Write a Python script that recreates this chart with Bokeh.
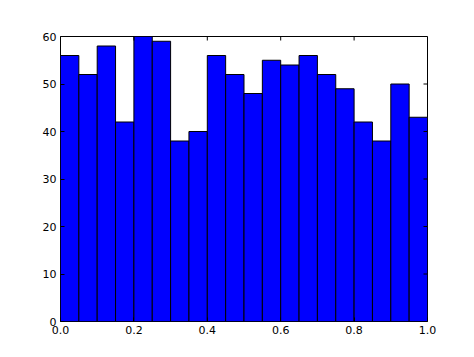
from bokeh.plotting import figure
from bokeh.models import LinearAxis, FixedTicker, Range1d, PrintfTickFormatter
from bokeh.embed import file_html
from bokeh.resources import INLINE

bin_left = [0.00, 0.05, 0.10, 0.15, 0.20, 0.25, 0.30, 0.35, 0.40, 0.45,
            0.50, 0.55, 0.60, 0.65, 0.70, 0.75, 0.80, 0.85, 0.90, 0.95]
bin_right = [0.05, 0.10, 0.15, 0.20, 0.25, 0.30, 0.35, 0.40, 0.45, 0.50,
             0.55, 0.60, 0.65, 0.70, 0.75, 0.80, 0.85, 0.90, 0.95, 1.00]
counts = [56, 52, 58, 42, 60, 59, 38, 40, 56, 52,
          48, 55, 54, 56, 52, 49, 42, 38, 50, 43]
x_ticks = [0.0, 0.2, 0.4, 0.6, 0.8, 1.0]
y_ticks = [0, 10, 20, 30, 40, 50, 60]

X0, X1, Y0, Y1 = 0, 1, 0, 60
W, H = 474, 357
ML, MR, MT, MB = 60, 47, 36, 36
TICK = 4  # px

p = figure(width=W, height=H, output_backend="svg", toolbar_location=None,
           x_range=Range1d(X0, X1), y_range=Range1d(Y0, Y1),
           min_border_left=ML, min_border_right=MR, min_border_top=MT, min_border_bottom=MB,
           x_axis_location=None, y_axis_location=None)
p.grid.visible = False
p.outline_line_color = "black"
p.outline_line_width = 1
p.background_fill_color = "white"
p.border_fill_color = "white"

p.quad(left=bin_left, right=bin_right, top=counts, bottom=[0] * len(counts),
       fill_color="#0000ff", line_color="black", line_width=1)

FONT = "DejaVu Sans"

def mk(loc, ticks, fmt):
    ax = LinearAxis(ticker=FixedTicker(ticks=ticks))
    ax.axis_line_color = None
    ax.major_tick_in = TICK
    ax.major_tick_out = 0
    ax.minor_tick_line_color = None
    ax.major_tick_line_color = "black"
    ax.major_label_text_font = FONT
    ax.major_label_text_font_size = "11px"
    ax.major_label_text_color = "black"
    ax.major_label_standoff = 4
    ax.formatter = PrintfTickFormatter(format=fmt)
    p.add_layout(ax, loc)

mk("below", x_ticks, "%.1f")
mk("left", y_ticks, "%d")

# mirrored inward ticks on top and right edges (matplotlib classic style)
fw = W - ML - MR
fh = H - MT - MB
dy = TICK * (Y1 - Y0) / fh
dx = TICK * (X1 - X0) / fw
p.segment(x0=x_ticks, y0=[Y1] * len(x_ticks), x1=x_ticks, y1=[Y1 - dy] * len(x_ticks),
          line_color="black", line_width=1)
p.segment(x0=[X1] * len(y_ticks), y0=y_ticks, x1=[X1 - dx] * len(y_ticks), y1=y_ticks,
          line_color="black", line_width=1)

open("out.html", "w").write(file_html(p, INLINE))
